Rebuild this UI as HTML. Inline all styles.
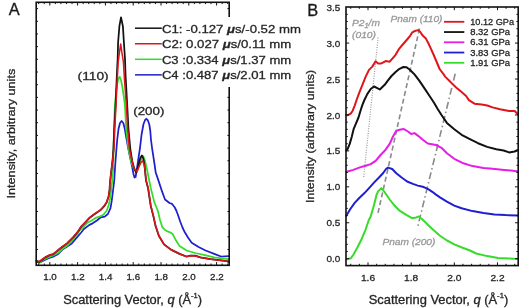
<!DOCTYPE html>
<html><head><meta charset="utf-8"><title>Scattering figure</title>
<style>
html,body{margin:0;padding:0;background:#fff;}
body{width:520px;height:308px;overflow:hidden;position:relative;}
svg{position:absolute;left:0;top:0;display:block;}
text{font-family:"Liberation Sans", Arial, sans-serif;fill:#262626;stroke:#262626;stroke-width:0.3;}
.c{fill:none;stroke-width:1.75;stroke-linejoin:round;stroke-linecap:round;}
</style></head><body>
<svg width="520" height="308" viewBox="0 0 520 308">
<text transform="translate(8.70,14.60)" font-size="16.4" style="fill:#1a1a1a;stroke:#1a1a1a">A</text>
<polyline class="c" stroke="#1f1fcf" points="36.5,261.3 39.1,262.8 43.8,260.5 48.5,258.2 53.1,256.6 57.8,254.3 62.5,249.6 67.2,246.5 71.8,243.4 76.5,237.9 81.2,232.5 83.9,229.0 89.1,225.1 93.0,223.1 96.9,220.5 100.8,217.3 104.7,216.6 107.9,214.0 110.5,208.2 111.8,200.4 113.1,190.0 114.3,180.0 115.2,165.0 116.2,152.0 117.2,140.0 118.5,129.0 120.0,123.0 121.6,121.0 123.3,123.0 124.8,129.0 126.2,137.0 128.0,147.0 130.0,157.0 132.0,166.0 133.5,174.0 134.5,177.5 135.6,177.0 137.2,167.0 138.5,158.0 140.0,148.0 141.5,135.0 143.5,124.0 145.0,120.2 146.3,118.8 147.8,120.2 149.3,124.5 150.3,131.0 151.0,140.0 152.2,149.0 153.3,156.2 154.5,164.0 155.7,172.5 157.9,178.9 161.4,189.6 165.0,199.5 169.5,203.0 172.1,203.9 174.8,207.5 176.5,211.0 177.8,214.5 180.2,221.5 182.5,227.5 184.8,232.3 188.0,237.5 191.7,242.7 198.6,247.0 205.6,250.5 214.2,253.9 221.1,256.5 228.9,256.2"/>
<polyline class="c" stroke="#35dd2a" points="36.5,261.0 39.5,262.5 43.0,260.0 48.0,257.5 53.0,255.5 58.0,253.0 63.0,248.5 68.0,245.0 73.0,239.5 78.0,233.0 79.7,230.3 82.6,227.7 87.8,222.5 91.7,220.5 95.6,217.9 99.5,216.6 103.4,214.7 106.6,210.8 108.6,205.6 110.5,196.5 111.2,190.0 112.3,180.0 113.1,170.0 113.4,160.0 113.6,149.0 114.1,128.0 114.8,106.7 116.3,90.0 117.8,80.5 119.7,76.7 121.0,80.0 122.5,88.0 124.0,98.0 125.0,106.7 126.1,128.0 128.5,149.0 131.5,163.0 134.2,169.5 137.0,171.0 139.5,165.0 141.5,158.5 143.3,156.3 144.8,160.0 147.1,170.0 150.7,187.9 154.3,202.1 157.9,211.0 160.0,220.0 162.3,227.1 165.0,230.0 167.5,231.4 170.5,232.5 172.5,234.0 175.3,239.2 179.6,246.1 186.5,250.5 195.2,253.0 203.8,254.8 214.2,257.4 228.9,259.1"/>
<polyline class="c" stroke="#111" points="36.5,260.8 39.1,262.0 42.2,259.7 45.3,257.4 50.0,255.0 53.1,254.3 56.2,251.9 60.9,248.0 67.2,243.4 73.4,237.1 78.1,231.5 79.7,229.0 81.3,226.6 85.2,222.7 89.1,218.3 93.0,215.2 96.9,212.6 100.8,209.9 104.0,206.4 106.6,202.5 108.6,196.5 109.6,190.0 109.8,185.0 110.5,178.0 111.4,170.0 112.6,160.0 113.4,149.0 114.3,128.0 115.5,106.7 116.9,74.0 117.7,58.0 118.1,42.5 119.4,26.2 121.0,17.3 122.9,26.2 123.9,42.5 125.0,58.7 125.5,74.2 127.3,106.7 128.4,128.0 130.3,149.0 132.2,161.0 134.2,168.5 136.2,172.5 138.3,166.0 140.3,158.0 141.9,155.4 143.3,158.5 144.4,164.4 146.0,180.6 148.0,187.9 150.7,205.7 153.4,216.4 155.4,225.4 158.8,235.8 164.0,244.4 171.0,249.6 179.6,253.9 186.5,256.5 190.5,255.5 195.2,255.7 200.4,257.4 210.7,259.1 221.1,260.3 228.9,261.4"/>
<polyline class="c" stroke="#e0151b" style="stroke-width:1.55" points="36.5,260.5 39.1,261.7 42.2,259.4 45.3,257.1 50.0,254.7 53.1,254.0 56.2,251.6 60.9,247.7 67.2,243.1 73.4,236.8 78.1,231.2 79.7,228.7 81.3,226.3 85.2,222.4 89.1,218.0 93.0,214.9 96.9,212.3 100.8,209.6 104.0,206.1 106.6,202.2 108.6,196.2 109.6,189.7 109.8,184.7 110.5,178.0 111.4,170.0 112.6,160.0 113.9,149.0 114.8,128.0 115.9,106.7 117.2,80.0 118.2,62.0 119.5,52.0 120.7,44.1 121.8,52.0 123.4,62.0 124.5,80.0 126.5,106.7 127.6,128.0 129.4,149.0 132.0,161.0 134.0,168.5 137.0,171.7 139.0,166.5 141.0,162.5 142.7,161.1 143.8,163.5 144.8,168.0 146.2,180.6 148.2,188.2 150.9,205.9 153.6,216.6 155.6,225.6 159.0,236.0 164.2,244.6 171.2,249.8 179.8,254.1 186.7,256.7 190.7,255.7 195.4,255.9 200.6,257.6 210.9,259.3 221.3,260.5 228.9,261.6"/>
<rect x="36.2" y="2.3" width="193.00" height="263.00" fill="none" stroke="#111" stroke-width="1.6"/>
<path d="M38.68 265.3v-1.8M38.68 2.3v1.8M44.24 265.3v-1.8M44.24 2.3v1.8M49.80 265.3v-3.2M49.80 2.3v3.2M55.36 265.3v-1.8M55.36 2.3v1.8M60.92 265.3v-1.8M60.92 2.3v1.8M66.48 265.3v-1.8M66.48 2.3v1.8M72.04 265.3v-1.8M72.04 2.3v1.8M77.60 265.3v-3.2M77.60 2.3v3.2M83.16 265.3v-1.8M83.16 2.3v1.8M88.72 265.3v-1.8M88.72 2.3v1.8M94.28 265.3v-1.8M94.28 2.3v1.8M99.84 265.3v-1.8M99.84 2.3v1.8M105.40 265.3v-3.2M105.40 2.3v3.2M110.96 265.3v-1.8M110.96 2.3v1.8M116.52 265.3v-1.8M116.52 2.3v1.8M122.08 265.3v-1.8M122.08 2.3v1.8M127.64 265.3v-1.8M127.64 2.3v1.8M133.20 265.3v-3.2M133.20 2.3v3.2M138.76 265.3v-1.8M138.76 2.3v1.8M144.32 265.3v-1.8M144.32 2.3v1.8M149.88 265.3v-1.8M149.88 2.3v1.8M155.44 265.3v-1.8M155.44 2.3v1.8M161.00 265.3v-3.2M161.00 2.3v3.2M166.56 265.3v-1.8M166.56 2.3v1.8M172.12 265.3v-1.8M172.12 2.3v1.8M177.68 265.3v-1.8M177.68 2.3v1.8M183.24 265.3v-1.8M183.24 2.3v1.8M188.80 265.3v-3.2M188.80 2.3v3.2M194.36 265.3v-1.8M194.36 2.3v1.8M199.92 265.3v-1.8M199.92 2.3v1.8M205.48 265.3v-1.8M205.48 2.3v1.8M211.04 265.3v-1.8M211.04 2.3v1.8M216.60 265.3v-3.2M216.60 2.3v3.2M222.16 265.3v-1.8M222.16 2.3v1.8M227.72 265.3v-1.8M227.72 2.3v1.8M36.2 8.60h1.8M229.2 8.60h-1.8M36.2 21.28h1.8M229.2 21.28h-1.8M36.2 33.96h1.8M229.2 33.96h-1.8M36.2 46.64h1.8M229.2 46.64h-1.8M36.2 59.32h1.8M229.2 59.32h-1.8M36.2 72.00h1.8M229.2 72.00h-1.8M36.2 84.68h1.8M229.2 84.68h-1.8M36.2 97.36h1.8M229.2 97.36h-1.8M36.2 110.04h1.8M229.2 110.04h-1.8M36.2 122.72h1.8M229.2 122.72h-1.8M36.2 135.40h1.8M229.2 135.40h-1.8M36.2 148.08h1.8M229.2 148.08h-1.8M36.2 160.76h1.8M229.2 160.76h-1.8M36.2 173.44h1.8M229.2 173.44h-1.8M36.2 186.12h1.8M229.2 186.12h-1.8M36.2 198.80h1.8M229.2 198.80h-1.8M36.2 211.48h1.8M229.2 211.48h-1.8M36.2 224.16h1.8M229.2 224.16h-1.8M36.2 236.84h1.8M229.2 236.84h-1.8M36.2 249.52h1.8M229.2 249.52h-1.8M36.2 262.20h1.8M229.2 262.20h-1.8" stroke="#111" stroke-width="1" fill="none"/>
<text transform="translate(77.60,79.80) scale(1.1824,1)" font-size="11.6">(110)</text>
<text transform="translate(133.20,114.60) scale(1.1522,1)" font-size="11.6">(200)</text>
<rect x="132" y="17" width="172" height="70" fill="#fff"/>
<line x1="135" y1="28.20" x2="161.8" y2="28.20" stroke="#111" stroke-width="1.5"/>
<text transform="translate(161.90,32.70) scale(1.1165,1)" font-size="11.8">C1: -0.127 <tspan font-weight="bold" font-style="italic">&#956;</tspan>s/-0.52 mm</text>
<line x1="135" y1="43.75" x2="161.8" y2="43.75" stroke="#e0151b" stroke-width="1.5"/>
<text transform="translate(161.90,48.25) scale(1.1186,1)" font-size="11.8">C2: 0.027 <tspan font-weight="bold" font-style="italic">&#956;</tspan>s/0.11 mm</text>
<line x1="135" y1="59.30" x2="161.8" y2="59.30" stroke="#35dd2a" stroke-width="1.5"/>
<text transform="translate(161.90,63.80) scale(1.1102,1)" font-size="11.8">C3 :0.334 <tspan font-weight="bold" font-style="italic">&#956;</tspan>s/1.37 mm</text>
<line x1="135" y1="74.85" x2="161.8" y2="74.85" stroke="#1f1fcf" stroke-width="1.5"/>
<text transform="translate(161.90,79.35) scale(1.1102,1)" font-size="11.8">C4 :0.487 <tspan font-weight="bold" font-style="italic">&#956;</tspan>s/2.01 mm</text>
<text transform="translate(50.00,279.90) scale(0.9982,1)" font-size="9.8" text-anchor="middle" style="stroke-width:0.3">1.0</text>
<text transform="translate(77.80,279.90) scale(0.9982,1)" font-size="9.8" text-anchor="middle" style="stroke-width:0.3">1.2</text>
<text transform="translate(105.60,279.90) scale(0.9982,1)" font-size="9.8" text-anchor="middle" style="stroke-width:0.3">1.4</text>
<text transform="translate(133.40,279.90) scale(0.9982,1)" font-size="9.8" text-anchor="middle" style="stroke-width:0.3">1.6</text>
<text transform="translate(161.20,279.90) scale(0.9982,1)" font-size="9.8" text-anchor="middle" style="stroke-width:0.3">1.8</text>
<text transform="translate(189.00,279.90) scale(0.9982,1)" font-size="9.8" text-anchor="middle" style="stroke-width:0.3">2.0</text>
<text transform="translate(216.80,279.90) scale(0.9982,1)" font-size="9.8" text-anchor="middle" style="stroke-width:0.3">2.2</text>
<text transform="translate(63.20,304.00) scale(1.0550,1)" font-size="12.2">Scattering Vector, <tspan font-style="italic">q</tspan> (&#197;<tspan font-size="7.2" dy="-6">-1</tspan><tspan dy="6">)</tspan></text>
<text transform="translate(14.50,133.60) rotate(-90) scale(1.0908,1)" font-size="11.6" text-anchor="middle">Intensity, arbitrary units</text>
<text transform="translate(307.30,15.60)" font-size="16.4" style="fill:#1a1a1a;stroke:#1a1a1a">B</text>
<g stroke="#8a8a8a" stroke-width="1.6" fill="none"><line x1="378.1" y1="37.5" x2="363.6" y2="178" stroke-dasharray="1 1.4" style="stroke-width:1.2;stroke:#999"/><line x1="419.5" y1="28.5" x2="378.0" y2="213" stroke-dasharray="5 3"/><line x1="455.2" y1="73.8" x2="417.9" y2="226" stroke-dasharray="7 3 1.5 3"/></g>
<polyline class="c" stroke="#35dd2a" style="stroke-width:2.0" points="346.3,259.6 347.8,258.9 350.9,258.2 353.2,255.0 357.1,248.0 361.8,238.7 365.7,229.3 368.8,220.0 370.7,216.5 374.0,204.9 376.5,195.0 378.1,191.4 381.4,188.1 384.7,192.2 389.7,199.5 394.7,205.8 399.6,210.7 406.3,214.9 412.0,218.2 416.2,217.4 418.7,216.5 422.8,219.8 428.6,225.5 434.0,230.5 440.0,235.7 447.0,240.5 454.3,244.3 462.0,247.5 470.0,250.5 476.2,253.5 487.2,256.1 498.1,258.0 509.1,258.5 518.0,259.1"/>
<polyline class="c" stroke="#1f1fcf" style="stroke-width:2.0" points="346.3,215.8 350.0,209.5 354.7,202.9 359.5,197.8 364.5,193.1 369.3,187.8 374.2,182.4 379.0,177.5 383.2,173.0 386.0,169.0 388.0,167.6 392.2,169.0 396.3,173.2 401.3,177.3 407.1,181.5 412.9,183.9 417.8,185.6 422.8,186.8 425.5,187.9 428.6,189.3 432.3,191.8 436.0,194.6 440.0,197.3 446.9,201.6 454.3,205.6 461.6,208.3 472.5,211.1 483.5,212.9 494.5,214.4 505.4,215.1 518.0,215.6"/>
<polyline class="c" stroke="#e41ee4" style="stroke-width:2.0" points="346.3,172.2 347.5,171.5 353.3,169.9 359.9,167.4 365.7,165.7 370.7,164.1 375.6,160.8 380.6,155.0 385.6,149.7 389.7,143.9 393.0,136.5 396.3,130.7 399.6,129.8 403.8,129.0 407.9,131.5 411.2,134.0 414.5,133.1 417.8,135.6 422.8,139.8 427.8,143.5 430.5,144.0 436.0,145.0 441.5,147.8 446.9,153.3 454.3,158.8 463.4,163.3 472.5,166.1 483.5,167.9 492.6,168.8 501.8,169.7 510.9,170.6 518.0,171.4"/>
<polyline class="c" stroke="#111" style="stroke-width:2.0" points="346.3,150.5 347.8,148.7 349.7,143.9 351.7,137.0 353.6,129.2 355.6,124.4 358.5,117.5 360.5,110.7 362.4,104.9 364.4,100.0 367.4,93.9 370.7,89.0 374.0,86.5 377.3,88.1 379.8,89.5 384.7,84.8 387.8,80.6 391.5,76.0 395.6,72.0 399.5,68.8 403.4,67.0 406.5,67.2 409.9,69.7 414.7,74.6 419.6,81.1 424.5,88.4 429.4,95.7 434.2,103.0 437.5,108.7 441.5,115.0 446.9,122.9 454.3,129.3 461.6,134.8 468.9,138.7 478.0,143.2 487.2,146.9 496.3,149.3 503.6,150.5 509.1,152.4 514.6,151.5 518.0,149.8"/>
<polyline class="c" stroke="#e0151b" style="stroke-width:2.0" points="346.3,114.8 347.8,115.2 350.7,113.6 352.7,110.7 354.6,105.8 356.6,100.0 359.1,93.1 362.4,84.8 365.7,76.6 369.0,69.9 372.3,66.6 375.6,61.3 378.1,63.4 381.4,63.4 385.6,61.1 389.7,61.7 395.4,55.1 399.3,48.6 403.2,44.0 407.1,39.5 410.3,35.6 412.3,32.3 414.9,31.0 418.1,30.1 420.1,31.7 422.7,35.6 425.9,38.6 428.5,43.5 430.5,47.8 433.5,54.5 436.9,62.5 439.6,69.0 443.3,73.8 445.1,76.6 448.8,80.2 452.4,83.9 456.1,87.5 461.6,92.1 466.1,96.0 468.9,100.1 474.4,103.7 481.7,104.6 487.2,105.5 492.6,107.4 500.0,109.2 509.1,111.0 514.6,111.0 518.0,114.2"/>
<rect x="346.0" y="7.0" width="172.20" height="258.60" fill="none" stroke="#111" stroke-width="1.6"/>
<path d="M350.74 265.6v-1.8M350.74 7.0v1.8M359.37 265.6v-1.8M359.37 7.0v1.8M368.00 265.6v-3.2M368.00 7.0v3.2M376.63 265.6v-1.8M376.63 7.0v1.8M385.26 265.6v-1.8M385.26 7.0v1.8M393.90 265.6v-1.8M393.90 7.0v1.8M402.53 265.6v-1.8M402.53 7.0v1.8M411.16 265.6v-3.2M411.16 7.0v3.2M419.79 265.6v-1.8M419.79 7.0v1.8M428.42 265.6v-1.8M428.42 7.0v1.8M437.06 265.6v-1.8M437.06 7.0v1.8M445.69 265.6v-1.8M445.69 7.0v1.8M454.32 265.6v-3.2M454.32 7.0v3.2M462.95 265.6v-1.8M462.95 7.0v1.8M471.58 265.6v-1.8M471.58 7.0v1.8M480.22 265.6v-1.8M480.22 7.0v1.8M488.85 265.6v-1.8M488.85 7.0v1.8M497.48 265.6v-3.2M497.48 7.0v3.2M506.11 265.6v-1.8M506.11 7.0v1.8M514.74 265.6v-1.8M514.74 7.0v1.8M346.0 258.70h3.2M518.2 258.70h-3.2M346.0 251.51h1.8M518.2 251.51h-1.8M346.0 244.33h1.8M518.2 244.33h-1.8M346.0 237.14h1.8M518.2 237.14h-1.8M346.0 229.95h1.8M518.2 229.95h-1.8M346.0 222.76h3.2M518.2 222.76h-3.2M346.0 215.58h1.8M518.2 215.58h-1.8M346.0 208.39h1.8M518.2 208.39h-1.8M346.0 201.20h1.8M518.2 201.20h-1.8M346.0 194.02h1.8M518.2 194.02h-1.8M346.0 186.83h3.2M518.2 186.83h-3.2M346.0 179.64h1.8M518.2 179.64h-1.8M346.0 172.46h1.8M518.2 172.46h-1.8M346.0 165.27h1.8M518.2 165.27h-1.8M346.0 158.08h1.8M518.2 158.08h-1.8M346.0 150.89h3.2M518.2 150.89h-3.2M346.0 143.71h1.8M518.2 143.71h-1.8M346.0 136.52h1.8M518.2 136.52h-1.8M346.0 129.33h1.8M518.2 129.33h-1.8M346.0 122.15h1.8M518.2 122.15h-1.8M346.0 114.96h3.2M518.2 114.96h-3.2M346.0 107.77h1.8M518.2 107.77h-1.8M346.0 100.59h1.8M518.2 100.59h-1.8M346.0 93.40h1.8M518.2 93.40h-1.8M346.0 86.21h1.8M518.2 86.21h-1.8M346.0 79.02h3.2M518.2 79.02h-3.2M346.0 71.84h1.8M518.2 71.84h-1.8M346.0 64.65h1.8M518.2 64.65h-1.8M346.0 57.46h1.8M518.2 57.46h-1.8M346.0 50.28h1.8M518.2 50.28h-1.8M346.0 43.09h3.2M518.2 43.09h-3.2M346.0 35.90h1.8M518.2 35.90h-1.8M346.0 28.72h1.8M518.2 28.72h-1.8M346.0 21.53h1.8M518.2 21.53h-1.8M346.0 14.34h1.8M518.2 14.34h-1.8" stroke="#111" stroke-width="1" fill="none"/>
<text transform="translate(352.00,25.60) scale(1.1363,1)" font-size="9.0" style="fill:#999;stroke:#999" font-style="italic">P2<tspan font-size="6.5" dy="2.2">1</tspan><tspan dy="-2.2">/m</tspan></text>
<text transform="translate(352.00,37.90) scale(1.1420,1)" font-size="9.0" style="fill:#999;stroke:#999" font-style="italic">(010)</text>
<text transform="translate(390.50,21.90) scale(1.1217,1)" font-size="9.0" style="fill:#999;stroke:#999" font-style="italic">Pnam (110)</text>
<text transform="translate(382.40,244.60) scale(1.1038,1)" font-size="9.2" style="fill:#999;stroke:#999" font-style="italic">Pnam (200)</text>
<line x1="444" y1="21.80" x2="464.3" y2="21.80" stroke="#e0151b" stroke-width="1.8"/>
<text transform="translate(470.20,24.90) scale(0.9969,1)" font-size="9.2">10.12 GPa</text>
<line x1="444" y1="32.05" x2="464.3" y2="32.05" stroke="#111" stroke-width="1.8"/>
<text transform="translate(470.20,35.15) scale(1.0250,1)" font-size="9.2">8.32 GPa</text>
<line x1="444" y1="42.30" x2="464.3" y2="42.30" stroke="#e41ee4" stroke-width="1.8"/>
<text transform="translate(470.20,45.40) scale(1.0250,1)" font-size="9.2">6.31 GPa</text>
<line x1="444" y1="52.55" x2="464.3" y2="52.55" stroke="#1f1fcf" stroke-width="1.8"/>
<text transform="translate(470.20,55.65) scale(1.0250,1)" font-size="9.2">3.83 GPa</text>
<line x1="444" y1="62.80" x2="464.3" y2="62.80" stroke="#35dd2a" stroke-width="1.8"/>
<text transform="translate(470.20,65.90) scale(1.0250,1)" font-size="9.2">1.91 GPa</text>
<text transform="translate(368.00,280.60) scale(1.0339,1)" font-size="9.9" text-anchor="middle" style="stroke-width:0.3">1.6</text>
<text transform="translate(411.16,280.60) scale(1.0339,1)" font-size="9.9" text-anchor="middle" style="stroke-width:0.3">1.8</text>
<text transform="translate(454.32,280.60) scale(1.0339,1)" font-size="9.9" text-anchor="middle" style="stroke-width:0.3">2.0</text>
<text transform="translate(497.48,280.60) scale(1.0339,1)" font-size="9.9" text-anchor="middle" style="stroke-width:0.3">2.2</text>
<text transform="translate(340.30,262.30) scale(1.0048,1)" font-size="9.9" text-anchor="end" style="stroke-width:0.3">0.0</text>
<text transform="translate(340.30,226.36) scale(1.0048,1)" font-size="9.9" text-anchor="end" style="stroke-width:0.3">0.5</text>
<text transform="translate(340.30,190.43) scale(1.0048,1)" font-size="9.9" text-anchor="end" style="stroke-width:0.3">1.0</text>
<text transform="translate(340.30,154.49) scale(1.0048,1)" font-size="9.9" text-anchor="end" style="stroke-width:0.3">1.5</text>
<text transform="translate(340.30,118.56) scale(1.0048,1)" font-size="9.9" text-anchor="end" style="stroke-width:0.3">2.0</text>
<text transform="translate(340.30,82.62) scale(1.0048,1)" font-size="9.9" text-anchor="end" style="stroke-width:0.3">2.5</text>
<text transform="translate(340.30,46.69) scale(1.0048,1)" font-size="9.9" text-anchor="end" style="stroke-width:0.3">3.0</text>
<text transform="translate(340.30,10.75) scale(1.0048,1)" font-size="9.9" text-anchor="end" style="stroke-width:0.3">3.5</text>
<text transform="translate(368.70,303.90) scale(1.0596,1)" font-size="12.2">Scattering Vector, <tspan font-style="italic">q</tspan> (&#197;<tspan font-size="7.2" dy="-6">-1</tspan><tspan dy="6">)</tspan></text>
<text transform="translate(314.10,136.50) rotate(-90) scale(1.0711,1)" font-size="11.6" text-anchor="middle">Intensity (arbitrary units)</text>
</svg>
</body></html>
